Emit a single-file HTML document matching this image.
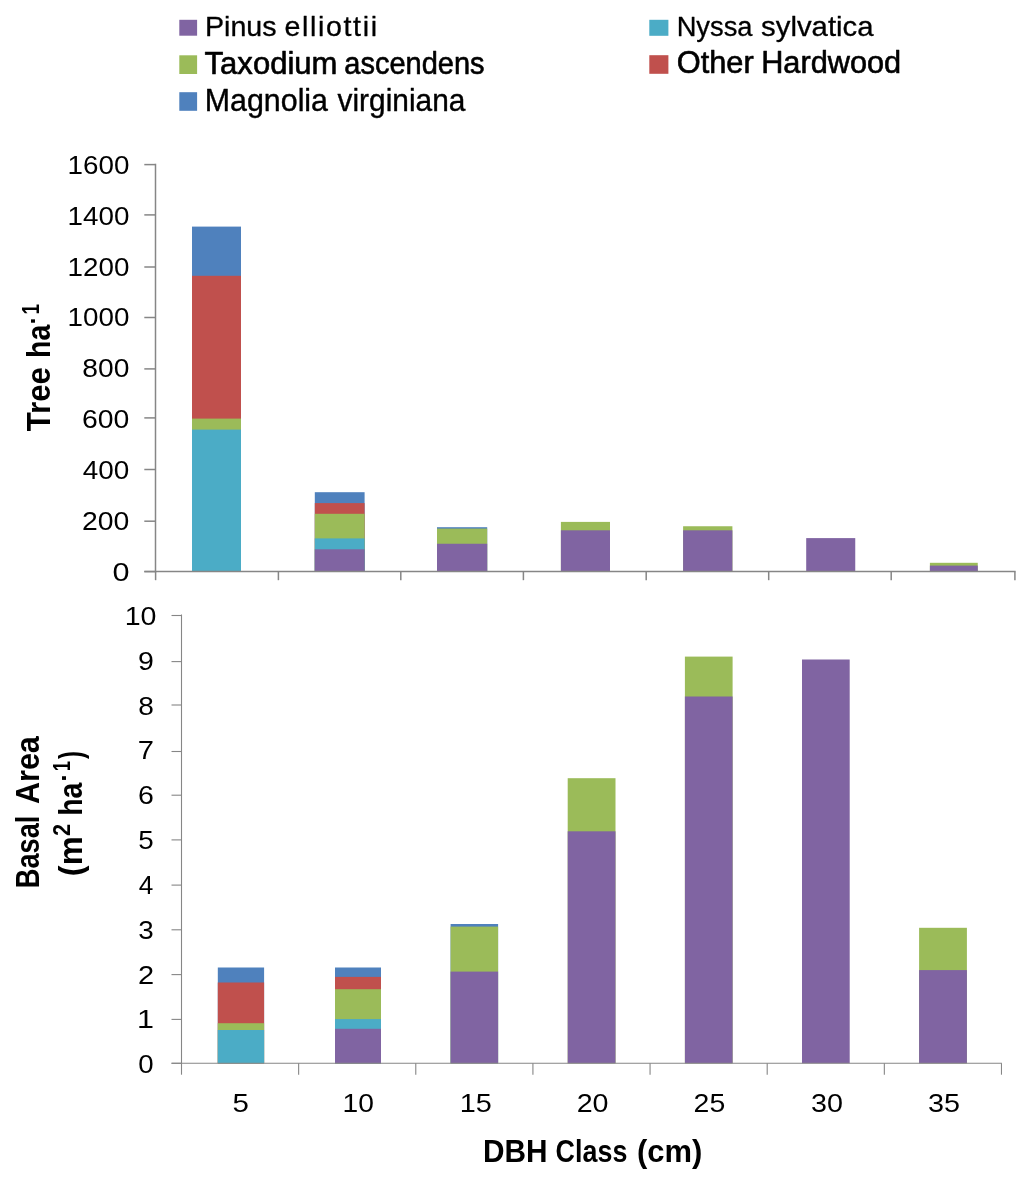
<!DOCTYPE html>
<html lang="en"><head><meta charset="utf-8"><title>Tree density and basal area by DBH class</title>
<style>html,body{margin:0;padding:0;background:#fff}body{width:1024px;height:1179px;overflow:hidden}svg{display:block}text{font-family:"Liberation Sans",sans-serif}</style></head>
<body>
<svg width="1024" height="1179" viewBox="0 0 1024 1179">
<title id="ct">Tree density and basal area by DBH class</title>
<desc id="cd">Stacked bar charts of trees per hectare and basal area per hectare across DBH classes 5 to 35 cm for Pinus elliottii, Taxodium ascendens, Magnolia virginiana, Nyssa sylvatica and Other Hardwood.</desc>
<rect width="1024" height="1179" fill="#fff"/>
<rect x="179.30" y="19.80" width="17.80" height="15.90" fill="#8064A2"/>
<rect x="179.30" y="55.30" width="17.80" height="18.70" fill="#9BBB59"/>
<rect x="179.30" y="92.20" width="17.80" height="18.60" fill="#4F81BD"/>
<rect x="649.30" y="19.80" width="19.10" height="16.00" fill="#4BACC6"/>
<rect x="649.30" y="55.20" width="19.10" height="18.60" fill="#C0504D"/>
<text transform="translate(204.94 35.70) scale(1.0700 1)" font-size="26.76" stroke="#000" stroke-width="0.3" stroke-linejoin="round" fill="#000">Pinus</text>
<text transform="translate(284.38 35.70) scale(1.0700 1)" font-size="26.76" letter-spacing="1.535" stroke="#000" stroke-width="0.3" stroke-linejoin="round" fill="#000">elliottii</text>
<text transform="translate(204.60 73.70) scale(1.0159 1)" font-size="30.55" stroke="#000" stroke-width="0.6" stroke-linejoin="round" fill="#000">Taxodium</text>
<text transform="translate(344.37 73.70) scale(0.9491 1)" font-size="30.55" stroke="#000" stroke-width="0.6" stroke-linejoin="round" fill="#000">ascendens</text>
<text transform="translate(204.79 110.60) scale(0.9941 1)" font-size="30.55" stroke="#000" stroke-width="0.4" stroke-linejoin="round" fill="#000">Magnolia</text>
<text transform="translate(337.55 110.60) scale(0.9779 1)" font-size="30.55" stroke="#000" stroke-width="0.4" stroke-linejoin="round" fill="#000">virginiana</text>
<text transform="translate(676.65 35.60) scale(1.0204 1)" font-size="26.76" stroke="#000" stroke-width="0.3" stroke-linejoin="round" fill="#000">Nyssa</text>
<text transform="translate(761.09 35.60) scale(1.0959 1)" font-size="26.76" stroke="#000" stroke-width="0.3" stroke-linejoin="round" fill="#000">sylvatica</text>
<text transform="translate(676.74 73.30) scale(1.0073 1)" font-size="30.55" stroke="#000" stroke-width="0.6" stroke-linejoin="round" fill="#000">Other</text>
<text transform="translate(761.17 73.30) scale(1.0053 1)" font-size="30.55" stroke="#000" stroke-width="0.6" stroke-linejoin="round" fill="#000">Hardwood</text>
<rect x="192.00" y="226.60" width="49.00" height="345.00" fill="#4F81BD"/>
<rect x="192.00" y="275.80" width="49.00" height="295.80" fill="#C0504D"/>
<rect x="192.00" y="418.60" width="49.00" height="153.00" fill="#9BBB59"/>
<rect x="192.00" y="429.60" width="49.00" height="142.00" fill="#4BACC6"/>
<rect x="314.80" y="492.20" width="49.80" height="79.40" fill="#4F81BD"/>
<rect x="314.80" y="503.10" width="49.80" height="68.50" fill="#C0504D"/>
<rect x="314.80" y="513.80" width="49.80" height="57.80" fill="#9BBB59"/>
<rect x="314.80" y="538.40" width="49.80" height="33.20" fill="#4BACC6"/>
<rect x="314.80" y="549.30" width="49.80" height="22.30" fill="#8064A2"/>
<rect x="437.00" y="527.20" width="50.20" height="44.40" fill="#4F81BD"/>
<rect x="437.00" y="528.60" width="50.20" height="43.00" fill="#9BBB59"/>
<rect x="437.00" y="543.75" width="50.20" height="27.85" fill="#8064A2"/>
<rect x="560.90" y="521.90" width="49.10" height="49.70" fill="#9BBB59"/>
<rect x="560.90" y="530.30" width="49.10" height="41.30" fill="#8064A2"/>
<rect x="683.10" y="526.25" width="49.30" height="45.35" fill="#9BBB59"/>
<rect x="683.10" y="530.30" width="49.30" height="41.30" fill="#8064A2"/>
<rect x="806.20" y="538.10" width="49.05" height="33.50" fill="#8064A2"/>
<rect x="929.90" y="562.80" width="47.85" height="8.80" fill="#9BBB59"/>
<rect x="929.90" y="565.60" width="47.85" height="6.00" fill="#8064A2"/>
<line x1="155.50" y1="163.80" x2="155.50" y2="572.30" stroke="#868686" stroke-width="1.5"/>
<line x1="144.30" y1="164.60" x2="155.50" y2="164.60" stroke="#868686" stroke-width="1.5"/>
<line x1="144.30" y1="214.90" x2="155.50" y2="214.90" stroke="#868686" stroke-width="1.5"/>
<line x1="144.30" y1="267.00" x2="155.50" y2="267.00" stroke="#868686" stroke-width="1.5"/>
<line x1="144.30" y1="317.50" x2="155.50" y2="317.50" stroke="#868686" stroke-width="1.5"/>
<line x1="144.30" y1="368.90" x2="155.50" y2="368.90" stroke="#868686" stroke-width="1.5"/>
<line x1="144.30" y1="417.90" x2="155.50" y2="417.90" stroke="#868686" stroke-width="1.5"/>
<line x1="144.30" y1="469.50" x2="155.50" y2="469.50" stroke="#868686" stroke-width="1.5"/>
<line x1="144.30" y1="521.20" x2="155.50" y2="521.20" stroke="#868686" stroke-width="1.5"/>
<line x1="144.30" y1="571.60" x2="155.50" y2="571.60" stroke="#868686" stroke-width="1.5"/>
<line x1="144.30" y1="571.60" x2="1015.60" y2="571.60" stroke="#868686" stroke-width="1.5"/>
<line x1="155.60" y1="571.60" x2="155.60" y2="580.20" stroke="#868686" stroke-width="1.5"/>
<line x1="278.40" y1="571.60" x2="278.40" y2="580.20" stroke="#868686" stroke-width="1.5"/>
<line x1="400.80" y1="571.60" x2="400.80" y2="580.20" stroke="#868686" stroke-width="1.5"/>
<line x1="523.40" y1="571.60" x2="523.40" y2="580.20" stroke="#868686" stroke-width="1.5"/>
<line x1="646.20" y1="571.60" x2="646.20" y2="580.20" stroke="#868686" stroke-width="1.5"/>
<line x1="768.70" y1="571.60" x2="768.70" y2="580.20" stroke="#868686" stroke-width="1.5"/>
<line x1="891.20" y1="571.60" x2="891.20" y2="580.20" stroke="#868686" stroke-width="1.5"/>
<line x1="1014.90" y1="571.60" x2="1014.90" y2="580.20" stroke="#868686" stroke-width="1.5"/>
<text transform="translate(67.62 173.80) scale(1.0434 1)" font-size="26.62" fill="#000">1600</text>
<text transform="translate(67.62 224.69) scale(1.0434 1)" font-size="26.62" fill="#000">1400</text>
<text transform="translate(67.62 275.57) scale(1.0434 1)" font-size="26.62" fill="#000">1200</text>
<text transform="translate(67.62 326.46) scale(1.0434 1)" font-size="26.62" fill="#000">1000</text>
<text transform="translate(82.30 377.35) scale(1.0602 1)" font-size="26.62" fill="#000">800</text>
<text transform="translate(82.08 428.24) scale(1.0652 1)" font-size="26.62" fill="#000">600</text>
<text transform="translate(82.87 479.13) scale(1.0470 1)" font-size="26.62" fill="#000">400</text>
<text transform="translate(82.08 530.01) scale(1.0652 1)" font-size="26.62" fill="#000">200</text>
<text transform="translate(112.48 580.90) scale(1.1487 1)" font-size="26.62" fill="#000">0</text>
<rect x="217.80" y="967.50" width="46.30" height="95.80" fill="#4F81BD"/>
<rect x="217.80" y="982.50" width="46.30" height="80.80" fill="#C0504D"/>
<rect x="217.80" y="1023.20" width="46.30" height="40.10" fill="#9BBB59"/>
<rect x="217.80" y="1030.00" width="46.30" height="33.30" fill="#4BACC6"/>
<rect x="335.00" y="967.50" width="46.00" height="95.80" fill="#4F81BD"/>
<rect x="335.00" y="976.90" width="46.00" height="86.40" fill="#C0504D"/>
<rect x="335.00" y="989.20" width="46.00" height="74.10" fill="#9BBB59"/>
<rect x="335.00" y="1019.10" width="46.00" height="44.20" fill="#4BACC6"/>
<rect x="335.00" y="1028.80" width="46.00" height="34.50" fill="#8064A2"/>
<rect x="450.60" y="924.00" width="47.50" height="139.30" fill="#4F81BD"/>
<rect x="450.60" y="926.60" width="47.50" height="136.70" fill="#9BBB59"/>
<rect x="450.60" y="971.60" width="47.50" height="91.70" fill="#8064A2"/>
<rect x="567.70" y="778.20" width="47.80" height="285.10" fill="#9BBB59"/>
<rect x="567.70" y="831.30" width="47.80" height="232.00" fill="#8064A2"/>
<rect x="684.90" y="656.60" width="47.70" height="406.70" fill="#9BBB59"/>
<rect x="684.90" y="696.50" width="47.70" height="366.80" fill="#8064A2"/>
<rect x="802.00" y="659.50" width="47.70" height="403.80" fill="#8064A2"/>
<rect x="919.10" y="927.80" width="47.80" height="135.50" fill="#9BBB59"/>
<rect x="919.10" y="970.10" width="47.80" height="93.20" fill="#8064A2"/>
<line x1="181.50" y1="614.50" x2="181.50" y2="1063.80" stroke="#868686" stroke-width="1.1"/>
<line x1="171.50" y1="615.50" x2="181.50" y2="615.50" stroke="#868686" stroke-width="1.1"/>
<line x1="171.50" y1="661.60" x2="181.50" y2="661.60" stroke="#868686" stroke-width="1.1"/>
<line x1="171.50" y1="705.00" x2="181.50" y2="705.00" stroke="#868686" stroke-width="1.1"/>
<line x1="171.50" y1="751.50" x2="181.50" y2="751.50" stroke="#868686" stroke-width="1.1"/>
<line x1="171.50" y1="795.20" x2="181.50" y2="795.20" stroke="#868686" stroke-width="1.1"/>
<line x1="171.50" y1="839.90" x2="181.50" y2="839.90" stroke="#868686" stroke-width="1.1"/>
<line x1="171.50" y1="885.10" x2="181.50" y2="885.10" stroke="#868686" stroke-width="1.1"/>
<line x1="171.50" y1="929.80" x2="181.50" y2="929.80" stroke="#868686" stroke-width="1.1"/>
<line x1="171.50" y1="974.60" x2="181.50" y2="974.60" stroke="#868686" stroke-width="1.1"/>
<line x1="171.50" y1="1019.40" x2="181.50" y2="1019.40" stroke="#868686" stroke-width="1.1"/>
<line x1="171.50" y1="1063.30" x2="181.50" y2="1063.30" stroke="#868686" stroke-width="1.1"/>
<line x1="171.50" y1="1063.30" x2="1001.90" y2="1063.30" stroke="#868686" stroke-width="1.1"/>
<line x1="181.50" y1="1063.30" x2="181.50" y2="1074.70" stroke="#868686" stroke-width="1.1"/>
<line x1="298.64" y1="1063.30" x2="298.64" y2="1074.70" stroke="#868686" stroke-width="1.1"/>
<line x1="415.78" y1="1063.30" x2="415.78" y2="1074.70" stroke="#868686" stroke-width="1.1"/>
<line x1="532.92" y1="1063.30" x2="532.92" y2="1074.70" stroke="#868686" stroke-width="1.1"/>
<line x1="650.06" y1="1063.30" x2="650.06" y2="1074.70" stroke="#868686" stroke-width="1.1"/>
<line x1="767.20" y1="1063.30" x2="767.20" y2="1074.70" stroke="#868686" stroke-width="1.1"/>
<line x1="884.34" y1="1063.30" x2="884.34" y2="1074.70" stroke="#868686" stroke-width="1.1"/>
<line x1="1001.48" y1="1063.30" x2="1001.48" y2="1074.70" stroke="#868686" stroke-width="1.1"/>
<text transform="translate(124.66 624.80) scale(1.0734 1)" font-size="26.62" fill="#000">10</text>
<text transform="translate(138.04 669.65) scale(1.0722 1)" font-size="26.62" fill="#000">9</text>
<text transform="translate(138.21 714.50) scale(1.0551 1)" font-size="26.62" fill="#000">8</text>
<text transform="translate(137.87 759.35) scale(1.0959 1)" font-size="26.62" fill="#000">7</text>
<text transform="translate(137.97 804.20) scale(1.0722 1)" font-size="26.62" fill="#000">6</text>
<text transform="translate(138.29 849.05) scale(1.0440 1)" font-size="26.62" fill="#000">5</text>
<text transform="translate(138.81 893.90) scale(0.9820 1)" font-size="26.62" fill="#000">4</text>
<text transform="translate(138.36 938.75) scale(1.0440 1)" font-size="26.62" fill="#000">3</text>
<text transform="translate(137.95 983.60) scale(1.0899 1)" font-size="26.62" fill="#000">2</text>
<text transform="translate(137.11 1028.45) scale(1.1466 1)" font-size="26.62" fill="#000">1</text>
<text transform="translate(138.29 1073.30) scale(1.0385 1)" font-size="26.62" fill="#000">0</text>
<text transform="translate(232.62 1111.70) scale(1.1073 1)" font-size="26.62" fill="#000">5</text>
<text transform="translate(342.59 1111.70) scale(1.0583 1)" font-size="26.62" fill="#000">10</text>
<text transform="translate(459.74 1111.70) scale(1.0836 1)" font-size="26.62" fill="#000">15</text>
<text transform="translate(576.67 1111.70) scale(1.0765 1)" font-size="26.62" fill="#000">20</text>
<text transform="translate(693.58 1111.70) scale(1.0681 1)" font-size="26.62" fill="#000">25</text>
<text transform="translate(811.12 1111.70) scale(1.0780 1)" font-size="26.62" fill="#000">30</text>
<text transform="translate(927.92 1111.70) scale(1.0807 1)" font-size="26.62" fill="#000">35</text>
<text transform="translate(483.09 1161.50) scale(0.9317 1)" font-size="32.00" font-weight="bold" fill="#000">DBH</text>
<text transform="translate(555.62 1161.50) scale(0.8400 1)" font-size="32.00" font-weight="bold" fill="#000">Class</text>
<text transform="translate(636.95 1161.50) scale(0.9670 1)" font-size="32.00" font-weight="bold" fill="#000">(cm)</text>
<g transform="translate(50 430.9) rotate(-90)">
<text transform="translate(-0.31 0.00) scale(0.9605 1)" font-size="32.44" font-weight="bold" fill="#000">Tree</text>
<text transform="translate(73.01 0.00) scale(0.8780 1)" font-size="32.44" font-weight="bold" fill="#000">ha</text>
<text transform="translate(107.66 -8.33) scale(0.6733 1.6667)" font-size="20.00" font-weight="bold" fill="#000">-</text>
<text transform="translate(116.32 -10.90) scale(0.8132 1)" font-size="23.27" font-weight="bold" fill="#000">1</text>
</g>
<g transform="translate(38.9 886.3) rotate(-90)">
<text transform="translate(-1.83 0.00) scale(0.8372 1)" font-size="32.44" font-weight="bold" fill="#000">Basal</text>
<text transform="translate(82.34 0.00) scale(0.9396 1)" font-size="32.44" font-weight="bold" fill="#000">Area</text>
</g>
<g transform="translate(81.5 874.6) rotate(-90)">
<text transform="translate(-1.63 0.00) scale(1.0054 1)" font-size="32.44" font-weight="bold" fill="#000">(m</text>
<text transform="translate(38.53 -11.40) scale(0.9399 1)" font-size="23.27" font-weight="bold" fill="#000">2</text>
<text transform="translate(58.81 0.00) scale(0.8780 1)" font-size="32.44" font-weight="bold" fill="#000">ha</text>
<text transform="translate(94.01 -8.53) scale(0.7327 1.6667)" font-size="20.00" font-weight="bold" fill="#000">-</text>
<text transform="translate(103.34 -11.40) scale(0.7947 1)" font-size="23.27" font-weight="bold" fill="#000">1</text>
<text transform="translate(115.54 0.00) scale(0.7377 1)" font-size="32.44" font-weight="bold" fill="#000">)</text>
</g>
</svg>
</body></html>
